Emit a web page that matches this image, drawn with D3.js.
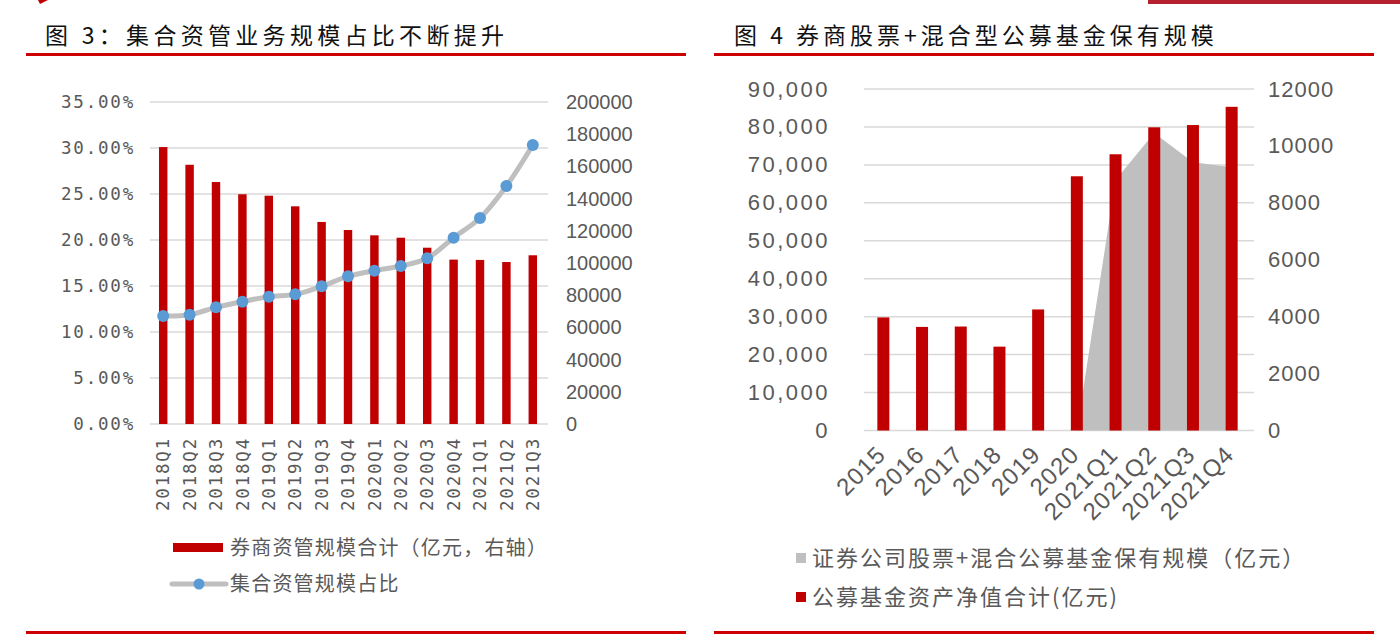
<!DOCTYPE html>
<html><head><meta charset="utf-8">
<script src="https://cdn.jsdelivr.net/npm/d3@7/dist/d3.min.js"></script>
<style>
html,body{margin:0;padding:0;background:#fff;}
svg{display:block;}
</style></head>
<body><svg id="c" width="1400" height="642"></svg>
<script>
// ---- Left chart data ----
const leftCategories = ["2018Q1","2018Q2","2018Q3","2018Q4","2019Q1","2019Q2","2019Q3","2019Q4","2020Q1","2020Q2","2020Q3","2020Q4","2021Q1","2021Q2","2021Q3"];
const brokerAmScale = [172000,161000,150300,142700,141800,135200,125500,120500,117200,115700,109500,102100,101900,100600,104800];
const collectiveShare = [11.74,11.88,12.68,13.30,13.84,14.09,14.96,16.05,16.67,17.17,18.01,20.25,22.39,25.87,30.33];
const leftPctTicks = [0,5,10,15,20,25,30,35];
const leftValTicks = [0,20000,40000,60000,80000,100000,120000,140000,160000,180000,200000];

// ---- Right chart data ----
const rightCategories = ["2015","2016","2017","2018","2019","2020","2021Q1","2021Q2","2021Q3","2021Q4"];
const fundNavTotal = [29800,27300,27400,22100,31900,67000,72800,79900,80500,85300];
const brokerFundHold = [0,0,0,0,0,0,8800,10450,9430,9250];
const rightLeftTicks = [0,10000,20000,30000,40000,50000,60000,70000,80000,90000];
const rightRightTicks = [0,2000,4000,6000,8000,10000,12000];

const svg = d3.select("#c");
const RED = "#C00000", GRID = "#D9D9D9", TXT = "#595959";
const CJK = "'Noto Sans CJK SC','Noto Sans',sans-serif";

// decorations
svg.append("rect").attr("x",1148).attr("y",0).attr("width",252).attr("height",4).attr("fill","#B4202E");
svg.append("polygon").attr("points","38,0 48,0 40,4").attr("fill","#C00000");
[[26,686],[714,1374]].forEach(([a,b])=>{
  svg.append("rect").attr("x",a).attr("y",53).attr("width",b-a).attr("height",3).attr("fill","#CC0000");
  svg.append("rect").attr("x",a).attr("y",631).attr("width",b-a).attr("height",3).attr("fill","#CC0000");
});
svg.append("text").attr("x",45).attr("y",44).attr("font-family",CJK).attr("font-size",23)
  .attr("letter-spacing",4.3).attr("fill","#111").text("图 3：集合资管业务规模占比不断提升");
svg.append("text").attr("x",734).attr("y",44).attr("font-family",CJK).attr("font-size",23)
  .attr("letter-spacing",4).attr("fill","#111").text("图 4 券商股票+混合型公募基金保有规模");

// ---------- Left chart ----------
{
  const x = d3.scaleBand().domain(leftCategories).range([150,546]).paddingInner(0.68).paddingOuter(0.34);
  const yL = d3.scaleLinear().domain([0,35]).range([424,102]);
  const yR = d3.scaleLinear().domain([0,200000]).range([424,102]);
  const g = svg.append("g");
  g.selectAll("line.grid").data(leftPctTicks).join("line")
    .attr("x1",150).attr("x2",548).attr("y1",d=>yL(d)).attr("y2",d=>yL(d))
    .attr("stroke",GRID).attr("stroke-width",1.5);
  const axL = d3.axisLeft(yL).tickValues(leftPctTicks).tickSize(0).tickPadding(0).tickFormat(d=>d.toFixed(2)+"%");
  const gl = g.append("g").attr("transform","translate(135,0)").call(axL);
  gl.select(".domain").remove();
  gl.selectAll("text").attr("font-family","'DejaVu Sans Mono',monospace").attr("font-size",17.5)
    .attr("letter-spacing",1.8).attr("fill",TXT);
  const axR = d3.axisRight(yR).tickValues(leftValTicks).tickSize(0).tickPadding(0).tickFormat(d=>d);
  const gr = g.append("g").attr("transform","translate(566,0)").call(axR);
  gr.select(".domain").remove();
  gr.selectAll("text").attr("font-family","'Liberation Sans',sans-serif").attr("font-size",20).attr("fill",TXT);

  g.selectAll("rect.bar").data(leftCategories).join("rect")
    .attr("x",d=>x(d)).attr("width",x.bandwidth())
    .attr("y",(d,i)=>yR(brokerAmScale[i])).attr("height",(d,i)=>yR(0)-yR(brokerAmScale[i]))
    .attr("fill",RED);

  const line = d3.line().x((d,i)=>x(leftCategories[i])+x.bandwidth()/2).y(d=>yL(d)).curve(d3.curveCatmullRom);
  g.append("path").datum(collectiveShare).attr("d",line).attr("fill","none")
    .attr("stroke","#BFBFBF").attr("stroke-width",5).attr("stroke-linejoin","round");
  g.selectAll("circle.pt").data(collectiveShare).join("circle")
    .attr("cx",(d,i)=>x(leftCategories[i])+x.bandwidth()/2).attr("cy",d=>yL(d)).attr("r",6)
    .attr("fill","#5B9BD5");

  const ax = d3.axisBottom(x).tickSize(0).tickPadding(0);
  const gx = g.append("g").attr("transform","translate(0,437)").call(ax);
  gx.select(".domain").remove();
  gx.selectAll("text").attr("font-family","'DejaVu Sans Mono',monospace").attr("font-size",17.5)
    .attr("letter-spacing",1.8).attr("fill",TXT)
    .attr("text-anchor","end").attr("dy","0.35em").attr("dx",0)
    .attr("transform","rotate(-90)").attr("x",0).attr("y",0);

  // legend
  g.append("rect").attr("x",173).attr("y",543).attr("width",50).attr("height",9).attr("fill",RED);
  g.append("text").attr("x",230).attr("y",548).attr("dy","0.35em").attr("font-family",CJK)
    .attr("font-size",20).attr("letter-spacing",1.2).attr("fill",TXT).text("券商资管规模合计（亿元，右轴）");
  g.append("line").attr("x1",172).attr("x2",226).attr("y1",584).attr("y2",584)
    .attr("stroke","#BFBFBF").attr("stroke-width",5).attr("stroke-linecap","round");
  g.append("circle").attr("cx",199).attr("cy",584).attr("r",5.5).attr("fill","#5B9BD5");
  g.append("text").attr("x",230).attr("y",584).attr("dy","0.35em").attr("font-family",CJK)
    .attr("font-size",20).attr("letter-spacing",1.2).attr("fill",TXT).text("集合资管规模占比");
}

// ---------- Right chart ----------
{
  const x = d3.scaleBand().domain(rightCategories).range([864,1251]).paddingInner(0.69).paddingOuter(0.345);
  const yL = d3.scaleLinear().domain([0,90000]).range([430.5,89]);
  const yR = d3.scaleLinear().domain([0,12000]).range([430.5,89]);
  const g = svg.append("g");
  g.selectAll("line.grid").data(rightLeftTicks).join("line")
    .attr("x1",864).attr("x2",1254).attr("y1",d=>yL(d)).attr("y2",d=>yL(d))
    .attr("stroke",GRID).attr("stroke-width",1.5);
  const fmt = d3.format(",");
  const axL = d3.axisLeft(yL).tickValues(rightLeftTicks).tickSize(0).tickPadding(0).tickFormat(fmt);
  const gl = g.append("g").attr("transform","translate(830,0)").call(axL);
  gl.select(".domain").remove();
  gl.selectAll("text").attr("font-family","'Liberation Sans',sans-serif").attr("font-size",22)
    .attr("letter-spacing",2.5).attr("fill",TXT);
  const axR = d3.axisRight(yR).tickValues(rightRightTicks).tickSize(0).tickPadding(0).tickFormat(d=>d);
  const gr = g.append("g").attr("transform","translate(1268,0)").call(axR);
  gr.select(".domain").remove();
  gr.selectAll("text").attr("font-family","'Liberation Sans',sans-serif").attr("font-size",22)
    .attr("letter-spacing",1).attr("fill",TXT);

  const start = 5;
  g.append("path").datum(brokerFundHold.slice(start))
    .attr("d",d3.area().x((d,i)=>x(rightCategories[i+start])+x.bandwidth()/2).y0(yR(0)).y1(d=>yR(d)))
    .attr("fill","#BFBFBF");

  g.selectAll("rect.bar").data(rightCategories).join("rect")
    .attr("x",d=>x(d)).attr("width",x.bandwidth())
    .attr("y",(d,i)=>yL(fundNavTotal[i])).attr("height",(d,i)=>yL(0)-yL(fundNavTotal[i]))
    .attr("fill",RED);

  const ax = d3.axisBottom(x).tickSize(0).tickPadding(0);
  const gx = g.append("g").attr("transform","translate(-2,450)").call(ax);
  gx.select(".domain").remove();
  gx.selectAll("text").attr("font-family","'Liberation Sans',sans-serif").attr("font-size",24)
    .attr("letter-spacing",1.2).attr("fill",TXT).attr("text-anchor","end").attr("dy","0.35em")
    .attr("transform","rotate(-45)").attr("x",0).attr("y",0);

  g.append("rect").attr("x",796).attr("y",553).attr("width",10).attr("height",10).attr("fill","#BFBFBF");
  g.append("text").attr("x",812).attr("y",558).attr("dy","0.35em").attr("font-family",CJK)
    .attr("font-size",22).attr("letter-spacing",2).attr("fill",TXT).text("证券公司股票+混合公募基金保有规模（亿元）");
  g.append("rect").attr("x",796).attr("y",592).attr("width",10).attr("height",10).attr("fill",RED);
  g.append("text").attr("x",812).attr("y",597).attr("dy","0.35em").attr("font-family",CJK)
    .attr("font-size",22).attr("letter-spacing",2).attr("fill",TXT).text("公募基金资产净值合计(亿元)");
}
</script></body></html>
